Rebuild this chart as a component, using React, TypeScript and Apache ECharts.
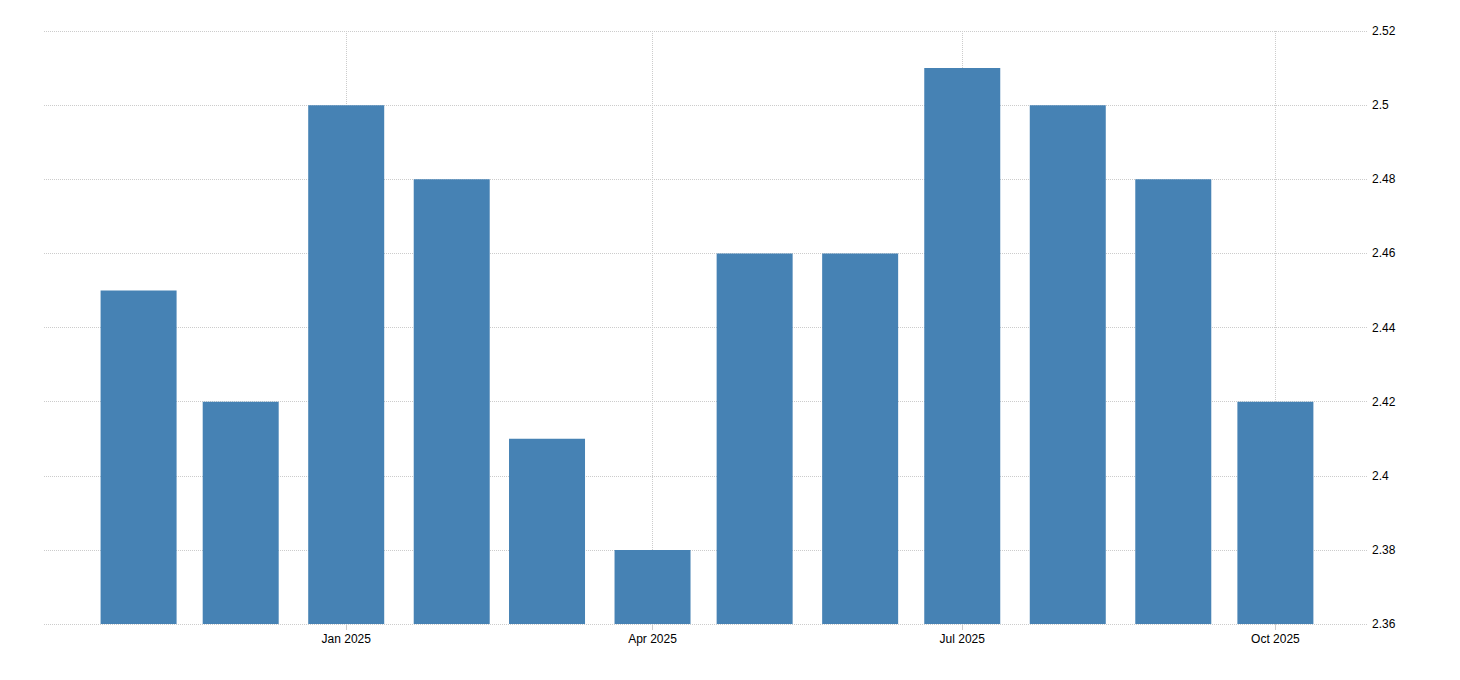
import React, { useEffect, useRef } from "react";
import * as echarts from "echarts";

const months: string[] = [
  "2024-11-01", "2024-12-01", "2025-01-01", "2025-02-01", "2025-03-01", "2025-04-01",
  "2025-05-01", "2025-06-01", "2025-07-01", "2025-08-01", "2025-09-01", "2025-10-01",
];
const values: number[] = [2.45, 2.42, 2.5, 2.48, 2.41, 2.38, 2.46, 2.46, 2.51, 2.5, 2.48, 2.42];
const tickDates: string[] = ["2025-01-01", "2025-04-01", "2025-07-01", "2025-10-01"];
const monthNames: string[] = ["Jan", "Feb", "Mar", "Apr", "May", "Jun", "Jul", "Aug", "Sep", "Oct", "Nov", "Dec"];
const yMin = 2.36;
const yMax = 2.52;
const yStep = 0.02;

function toUTC(s: string): number {
  const [y, m, d] = s.split("-").map(Number);
  return Date.UTC(y, m - 1, d);
}

export default function App() {
  const ref = useRef<HTMLDivElement>(null);
  useEffect(() => {
    if (!ref.current) return;
    const chart = echarts.init(ref.current, undefined, { renderer: "svg" });
    const ticks = tickDates.map(toUTC);
    const font = "'Liberation Sans', Arial, sans-serif";
    const gridStyle = { color: "#cccccc", type: [1, 1], width: 1 };
    chart.setOption({
      animation: false,
      grid: { left: 44, right: 93, top: 31, bottom: 56, containLabel: false },
      xAxis: {
        type: "value",
        scale: true,
        min: Date.UTC(2024, 9, 4, 5),
        max: Date.UTC(2025, 9, 27, 22),
        axisLine: { show: false },
        axisTick: {
          show: true,
          length: 6,
          customValues: ticks,
          lineStyle: { color: "#cccccc", width: 1 },
        },
        axisLabel: {
          customValues: ticks,
          margin: 9,
          fontSize: 12,
          fontFamily: font,
          color: "#000000",
          formatter: (v: number) => {
            const d = new Date(v);
            return monthNames[d.getUTCMonth()] + " " + d.getUTCFullYear();
          },
        },
        splitLine: { show: true, lineStyle: gridStyle },
      },
      yAxis: {
        type: "value",
        position: "right",
        min: yMin,
        max: yMax,
        interval: yStep,
        axisLine: { show: false },
        axisTick: { show: false },
        axisLabel: {
          margin: 5,
          fontSize: 12,
          fontFamily: font,
          color: "#000000",
          formatter: (v: number) => String(Math.round(v * 100) / 100),
        },
        splitLine: { show: true, lineStyle: gridStyle },
      },
      series: [
        {
          type: "bar",
          data: months.map((m, i) => [toUTC(m), values[i]]),
          barWidth: 76,
          itemStyle: { color: "#4682b4" },
        },
      ],
    });
    return () => chart.dispose();
  }, []);
  return (
    <div
      ref={ref}
      style={{ position: "absolute", left: 0, top: 0, width: 1460, height: 680, background: "#ffffff" }}
    />
  );
}
